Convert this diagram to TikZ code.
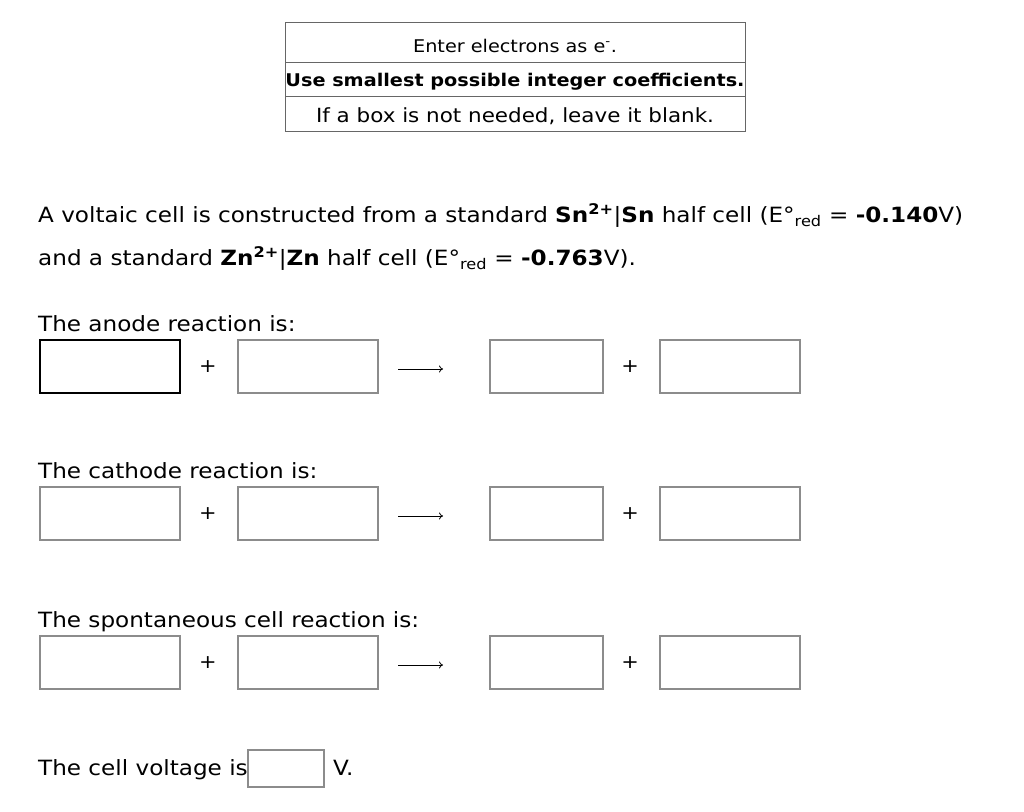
\documentclass[tikz,border=0pt]{standalone}
\usepackage{fontspec}
\setmainfont[FakeStretch=1.1]{DejaVu Sans}
\usetikzlibrary{arrows.meta}
\begin{document}
\begin{tikzpicture}[x=1pt,y=-1pt,
  txt/.style={anchor=base west,inner sep=0pt,font=\fontsize{21}{24}\selectfont},
  tb/.style={anchor=base,inner sep=0pt,font=\fontsize{17.5}{20}\selectfont},
  ibox/.style={draw=gray!90,line width=1.2pt},
  plus/.style={inner sep=0pt,font=\fontsize{19}{22}\selectfont},
  arr/.style={line width=0.8pt,-{To[length=4pt,width=7pt]}}]
\useasboundingbox (0,0) rectangle (1024,811);
% header box
\draw[draw=black!60,line width=1pt] (285,22) rectangle (745,131);
\draw[draw=black!60,line width=1pt] (285,62) -- (745,62) (285,96) -- (745,96);
\node[tb] (h1) at (515,52) {Enter electrons as e\textsuperscript{-}.};
\node[tb] (h2) at (515,86) {\textbf{Use smallest possible integer coefficients.}};
\node[tb,font=\fontsize{19.5}{22}\selectfont] (h3) at (515,122) {If a box is not needed, leave it blank.};
% intro
\node[txt] (l1) at (38,222) {A voltaic cell is constructed from a standard \textbf{Sn\textsuperscript{2+}}|\textbf{Sn} half cell (E°\textsubscript{red} = \textbf{-0.140}V)};
\node[txt] (l2) at (38,265) {and a standard \textbf{Zn\textsuperscript{2+}}|\textbf{Zn} half cell (E°\textsubscript{red} = \textbf{-0.763}V).};
% rows
\foreach \lab/\ty/\by [count=\i] in {{The anode reaction is:}/331/340,{The cathode reaction is:}/478/487,{The spontaneous cell reaction is:}/627/636}{
  \node[txt] (t\i) at (38,\ty) {\lab};
  \draw[ibox] (40,\by) rectangle (180,\by+53);
  \node[plus] (p\i) at (208,\by+27) {+};
  \draw[ibox] (238,\by) rectangle (378,\by+53);
  \coordinate (as\i) at (398,\by+29);
  \coordinate (ae\i) at (443,\by+29);
  \draw[arr] (as\i) -- (ae\i);
  \draw[ibox] (490,\by) rectangle (603,\by+53);
  \node[plus] (q\i) at (630,\by+27) {+};
  \draw[ibox] (660,\by) rectangle (800,\by+53);
}
\draw[black,line width=1.2pt] (40,340) rectangle (180,393);
% voltage
\node[txt] (v) at (38,775) {The cell voltage is};
\draw[ibox] (248,750) rectangle (324,787);
\node[txt] (vu) at (333,775) {V.};
\end{tikzpicture}
\end{document}
